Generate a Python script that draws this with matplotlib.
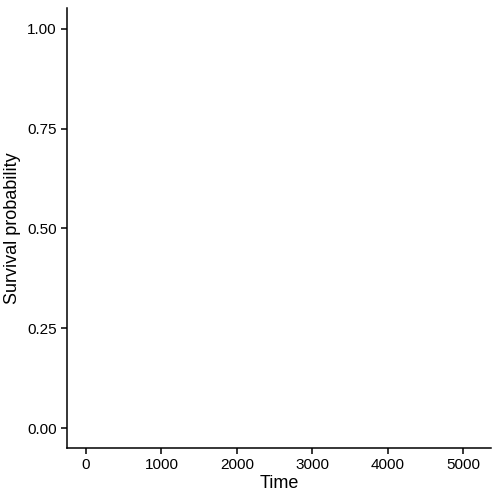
import matplotlib
matplotlib.use("Agg")
import matplotlib.pyplot as plt

x_ticks = [0, 1000, 2000, 3000, 4000, 5000]
y_ticks = [0.00, 0.25, 0.50, 0.75, 1.00]
y_labels = ["0.00", "0.25", "0.50", "0.75", "1.00"]

plt.rcParams['font.family'] = ['Liberation Sans', 'DejaVu Sans']
fig = plt.figure(figsize=(5, 5), dpi=100)
ax = fig.add_axes([0.134, 0.104, 0.848, 0.88])
ax.set_xlim(-252, 5370)
ax.set_ylim(-0.05, 1.052)
ax.set_xticks(x_ticks)
ax.set_yticks(y_ticks)
ax.set_yticklabels(y_labels)
for s in ["top", "right"]:
    ax.spines[s].set_visible(False)
for s in ["left", "bottom"]:
    ax.spines[s].set_linewidth(1.1)
ax.tick_params(labelsize=11, length=4, width=1.1, colors="black")
ax.set_xlabel("Time", fontsize=13, labelpad=2)
ax.set_ylabel("Survival probability", fontsize=13, labelpad=4)
fig.savefig("out.png")
